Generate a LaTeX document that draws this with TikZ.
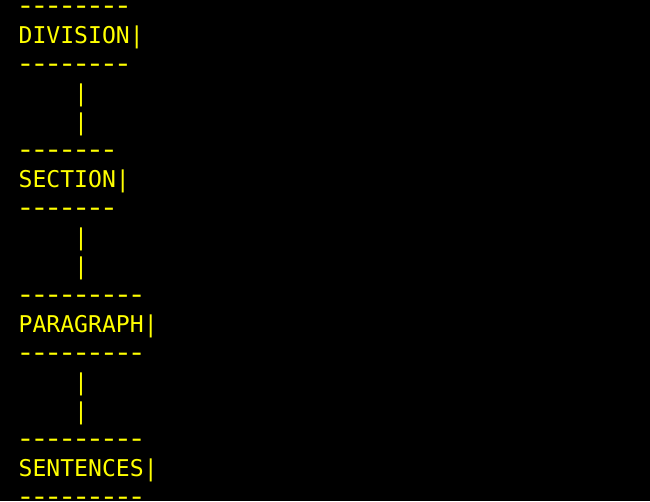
\documentclass[tikz,border=0pt]{standalone}
\usepackage{fontspec}
\newfontfamily\termfont[Ligatures=TeXOff]{DejaVu Sans Mono}
\definecolor{termyellow}{RGB}{255,255,0}
% a hyphen drawn a little wider, in its own monospaced cell
\newcommand\tdash{\makebox[0.602em][c]{\scalebox{1.35}[1.15]{-}}}
\newcommand\tdashes[1]{\foreach \k in {1,...,#1}{\tdash}}
\begin{document}
\begin{tikzpicture}[x=1pt,y=-1pt,
  termline/.style={anchor=base west, inner sep=0pt, outer sep=0pt,
    text=termyellow, font=\termfont\fontsize{23.1}{23.1}\selectfont}]
\fill[black] (0,0) rectangle (650,501);
\useasboundingbox (0,0) rectangle (650,501);
% column width 13.9, row pitch 28.9, first baseline 14.4
\node[termline] (r0)  at (18.6,14.4)  {\tdashes{8}};
\node[termline] (r1)  at (18.6,43.3)  {DIVISION|};
\node[termline] (r2)  at (18.6,72.2)  {\tdashes{8}};
\node[termline] (r3)  at (74.2,101.1) {|};
\node[termline] (r4)  at (74.2,130.0) {|};
\node[termline] (r5)  at (18.6,158.9) {\tdashes{7}};
\node[termline] (r6)  at (18.6,187.8) {SECTION|};
\node[termline] (r7)  at (18.6,216.7) {\tdashes{7}};
\node[termline] (r8)  at (74.2,245.6) {|};
\node[termline] (r9)  at (74.2,274.5) {|};
\node[termline] (r10) at (18.6,303.4) {\tdashes{9}};
\node[termline] (r11) at (18.6,332.3) {PARAGRAPH|};
\node[termline] (r12) at (18.6,361.2) {\tdashes{9}};
\node[termline] (r13) at (74.2,390.1) {|};
\node[termline] (r14) at (74.2,419.0) {|};
\node[termline] (r15) at (18.6,447.9) {\tdashes{9}};
\node[termline] (r16) at (18.6,476.8) {SENTENCES|};
\node[termline] (r17) at (18.6,505.7) {\tdashes{9}};
\end{tikzpicture}
\end{document}
